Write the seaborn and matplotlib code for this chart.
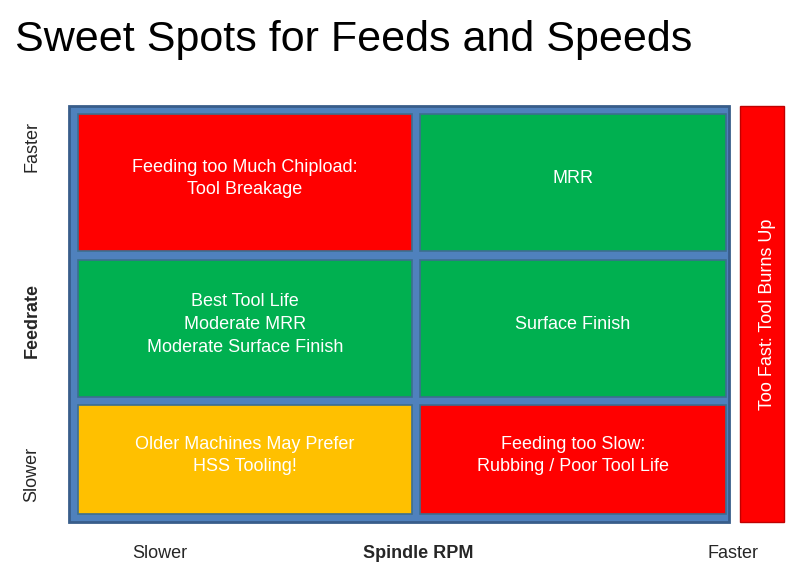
import matplotlib
matplotlib.use("Agg")
import matplotlib.pyplot as plt
import matplotlib.patches as mp
import seaborn as sns

sns.set_theme(style="white")
plt.rcParams['font.family'] = ['Liberation Sans', 'DejaVu Sans']

title = "Sweet Spots for Feeds and Speeds"
cell_texts = [["Feeding too Much Chipload:\nTool Breakage", "MRR"],
              ["Best Tool Life\nModerate MRR\nModerate Surface Finish", "Surface Finish"],
              ["Older Machines May Prefer\nHSS Tooling!", "Feeding too Slow:\nRubbing / Poor Tool Life"]]
cell_colors = [["#FF0000", "#00B050"],
               ["#00B050", "#00B050"],
               ["#FFC000", "#FF0000"]]
side_text = "Too Fast: Tool Burns Up"
y_labels = ["Faster", "Feedrate", "Slower"]
x_labels = ["Slower", "Spindle RPM", "Faster"]

fig = plt.figure(figsize=(8, 5.73), dpi=100)
ax = fig.add_axes([0, 0, 1, 1])
ax.set_xlim(0, 800); ax.set_ylim(573, 0); ax.axis("off")

ax.text(15, 40, title, fontsize=31, va="center", ha="left", color="black")

ax.add_patch(mp.Rectangle((69, 106), 660, 416, fc="#4F81BD", ec="#385D8A", lw=2))
col_x = [(78, 334), (420, 306)]
row_y = [(114, 137), (260, 137), (405, 109)]
for r, (y, h) in enumerate(row_y):
    for c, (x, w) in enumerate(col_x):
        ax.add_patch(mp.Rectangle((x, y), w, h, fc=cell_colors[r][c], ec="#3C6E8F", lw=1.2))
        ax.text(x + w / 2, y + h / 2 - 4, cell_texts[r][c], ha="center", va="center",
                color="white", fontsize=13, linespacing=1.45)

ax.add_patch(mp.Rectangle((740, 106), 44, 416, fc="#FF0000", ec="#C00000", lw=1))
ax.text(767, 314, side_text, rotation=90, ha="center", va="center", color="white", fontsize=13)

ax.text(32, 146, y_labels[0], rotation=90, ha="center", va="center", fontsize=13)
ax.text(32, 320, y_labels[1], rotation=90, ha="center", va="center", fontsize=13, fontweight="bold")
ax.text(32, 474, y_labels[2], rotation=90, ha="center", va="center", fontsize=13)
ax.text(160, 553, x_labels[0], ha="center", va="center", fontsize=13)
ax.text(418, 553, x_labels[1], ha="center", va="center", fontsize=13, fontweight="bold")
ax.text(733, 553, x_labels[2], ha="center", va="center", fontsize=13)

fig.savefig("out.png", dpi=100)
